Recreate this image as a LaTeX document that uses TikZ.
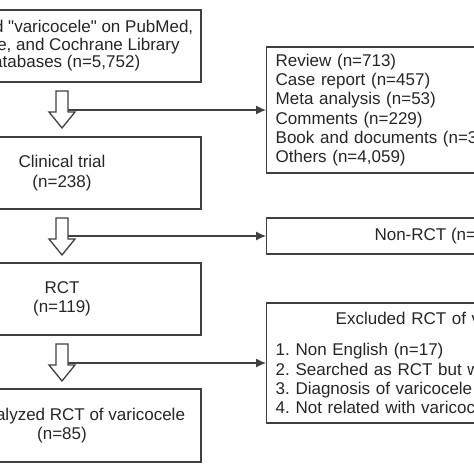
\documentclass[tikz,border=0pt]{standalone}
\usepackage{fontspec}
\setmainfont{Liberation Sans}[Ligatures=TeXOff]
\usepackage{tikz}
\usetikzlibrary{arrows.meta, positioning}
\frenchspacing
\tikzstyle{mainbox} = [rectangle, minimum width=278pt, minimum height=72pt, text centered, draw=black!75, line width=1.4pt, text=black!85]
\tikzstyle{sidebox} = [rectangle, anchor=west, inner xsep=9pt, draw=black!75, line width=1.4pt, text=black!85]
\tikzstyle{arrow}   = [line width=1.2pt, draw=black!75, -{Latex[length=10pt,width=9pt]}]
\tikzstyle{hollow}  = [line width=1.3pt, draw=black!75, fill=white, line join=miter]
\tikzset{every node/.style={align=center, font=\fontsize{17}{19.3}\selectfont}}
% hollow block arrow pointing down, top centre at #1
\newcommand{\blockdown}[1]{\draw[hollow] (#1) ++(-6,0) -- ++(0,21) -- ++(-7,0) -- ++(13,16) -- ++(13,-16) -- ++(-7,0) -- ++(0,-21) -- cycle;}

\begin{document}
\begin{tikzpicture}[x=1pt, y=-1pt]
    \useasboundingbox (0,0) rectangle (474,474);
    \fill[white] (0,0) rectangle (474,474);
    \clip (0,0) rectangle (474,474);

    \node (srch) at (62,46)    [mainbox, font=\fontsize{17}{17.5}\selectfont] {Searched "varicocele" on PubMed,\\Embase, and Cochrane Library\\databases (n=5,752)};
    \node (clin) at (62,173)   [mainbox] {Clinical trial\\(n=238)};
    \node (rct)  at (62,299)   [mainbox] {RCT\\(n=119)};
    \node (fin)  at (62,425.5) [mainbox, minimum height=73pt] {\makebox[246pt][r]{alyzed RCT of varicocele}\\(n=85)};

    \node (rev)  at (266,110)  [sidebox, minimum height=126pt, text width=356pt, align=left] {Review (n=713)\\Case report (n=457)\\Meta analysis (n=53)\\Comments (n=229)\\Book and documents (n=3)\\Others (n=4,059)};
    \node (nrct) at (266,236)  [sidebox, minimum width=350pt, minimum height=36pt] {Non-RCT (n=119)};
    \node (exc)  at (266,363)  [sidebox, minimum height=120pt, text width=384pt, align=left] {\hspace*{60pt}Excluded RCT of varicocele (n=34)\\[12pt]1. Non English (n=17)\\2. Searched as RCT but w\\3. Diagnosis of varicocele\\4. Not related with varicoce};

    \coordinate (a1) at (62,91);
    \coordinate (a2) at (62,218);
    \coordinate (a3) at (62,344);

    % side exits first, block arrows cover their starts
    \draw [arrow] (a1 |- rev.west)  -- (rev.west);
    \draw [arrow] (a2 |- nrct.west) -- (nrct.west);
    \draw [arrow] (a3 |- exc.west)  -- (exc.west);
    \blockdown{a1}
    \blockdown{a2}
    \blockdown{a3}
\end{tikzpicture}
\end{document}
